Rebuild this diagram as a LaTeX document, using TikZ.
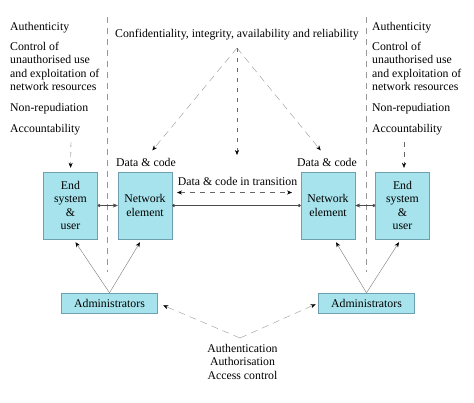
\documentclass[tikz,border=0pt]{standalone}
\usepackage{fontspec}
\setmainfont{Liberation Serif}
\usepackage{xcolor}
\definecolor{boxcyan}{RGB}{166,227,236}
\definecolor{boxedge}{RGB}{110,160,178}
\definecolor{dashgray}{RGB}{150,150,150}
\definecolor{linkgray}{RGB}{120,120,120}
\usetikzlibrary{arrows.meta, positioning}

\begin{document}
\begin{tikzpicture}[x=1pt, y=-1pt,
    every node/.style={font=\fontsize{11.8}{13.5}\selectfont, inner sep=0pt},
    unitbox/.style={draw=boxedge, fill=boxcyan, minimum width=54pt, minimum height=67pt, align=center},
    adminbox/.style={draw=boxedge, fill=boxcyan, minimum width=96pt, minimum height=20pt},
    sidetext/.style={anchor=base west, align=left},
    sep/.style={draw=dashgray, dash pattern=on 6pt off 5pt},
    goal/.style={draw=dashgray, dash pattern=on 7pt off 5pt, -{Stealth[length=5pt, width=4pt, color=black]}},
    flowdash/.style={draw=black!60, dash pattern=on 5pt off 5pt},
    link/.style={draw=black!70, thin},
    admin/.style={draw=linkgray, thin, -{Stealth[length=5pt, width=4pt, color=black]}}
  ]
  \useasboundingbox (0,0) rectangle (474,402);

  % security properties, left and right
  \node[sidetext] (authL) at (10,30.5) {Authenticity};
  \node[sidetext] (ctrlL) at (10,90.5) {Control of\\unauthorised use\\and exploitation of\\network resources};
  \node[sidetext] (nrL) at (10,111) {Non-repudiation};
  \node[sidetext] (accL) at (10,132.5) {Accountability};
  \node[sidetext] (authR) at (372,30.5) {Authenticity};
  \node[sidetext] (ctrlR) at (372,90.5) {Control of\\unauthorised use\\and exploitation of\\network resources};
  \node[sidetext] (nrR) at (372,111) {Non-repudiation};
  \node[sidetext] (accR) at (372,132.5) {Accountability};

  \node[anchor=base] (cia) at (237,37.5) {Confidentiality, integrity, availability and reliability};
  \coordinate (apex) at (237,48);
  \coordinate (midtip) at (237,155);

  % separators
  \draw[sep] (107,17) -- (107,272);
  \draw[sep] (366,17) -- (366,272);

  % boxes
  \node[unitbox] (esL) at (70.5,205.5) {End\\system\\\&\\user};
  \node[unitbox] (neL) at (145,205.5) {Network\\element};
  \node[unitbox] (neR) at (328,205.5) {Network\\element};
  \node[unitbox] (esR) at (402.5,205.5) {End\\system\\\&\\user};

  \node[anchor=base] (dcL) at (146,166.5) {Data \& code};
  \node[anchor=base] (dcR) at (327,166.5) {Data \& code};
  \node[anchor=base] (trans) at (237.5,185.5) {Data \& code in transition};
  \coordinate (transA) at (177,192.5);
  \coordinate (transB) at (292,192.5);

  \node[adminbox] (admL) at (109.5,303) {Administrators};
  \node[adminbox] (admR) at (366.5,303) {Administrators};
  \node[align=center] (aaa) at (242.5,361.5) {Authentication\\Authorisation\\Access control};
  \coordinate (aaaTop) at (240,338);

  % incoming requirements
  \coordinate (inL) at (71,142);
  \coordinate (inR) at (404,142);
  \draw[flowdash, -{Stealth[length=5pt, width=4pt, color=black]}, shorten >=4pt] (inL) -- (esL.north);
  \draw[flowdash, -{Stealth[length=5pt, width=4pt, color=black]}, shorten >=4pt] (inR) -- (esR.north -| inR);

  \draw[goal, shorten >=10pt] (apex) -- (dcL.north);
  \draw[goal, shorten >=10pt] (apex) -- (dcR.north);
  \draw[flowdash, dash pattern=on 4pt off 6pt, -{Stealth[length=5pt, width=4pt, color=black]}] (apex) -- (midtip);
  \draw[flowdash, {Stealth[length=5pt, width=4pt, color=black]}-{Stealth[length=5pt, width=4pt, color=black]}] (transA) -- (transB);

  % data paths
  \draw[link, {Circle[length=3pt]}-{Stealth[length=5pt, width=4pt]}] (esL.east) -- (neL.west);
  \draw[link, {Circle[length=3pt]}-{Circle[length=3pt]}] (neL.east) -- (neR.west);
  \draw[link, {Stealth[length=5pt, width=4pt]}-{Circle[length=3pt]}] (neR.east) -- (esR.west);

  % administrators
  \draw[admin] (admL.north) -- ([xshift=5pt, yshift=-3pt]esL.south);
  \draw[admin] (admL.north) -- ([xshift=-5pt, yshift=-3pt]neL.south);
  \draw[admin] (admR.north) -- ([xshift=8pt, yshift=-3pt]neR.south);
  \draw[admin] (admR.north) -- ([xshift=-3.5pt, yshift=-3pt]esR.south);

  \draw[goal, shorten >=6pt] (aaaTop) -- (admL.east);
  \draw[goal, shorten >=3pt] (aaaTop) -- (admR.west);
\end{tikzpicture}
\end{document}
